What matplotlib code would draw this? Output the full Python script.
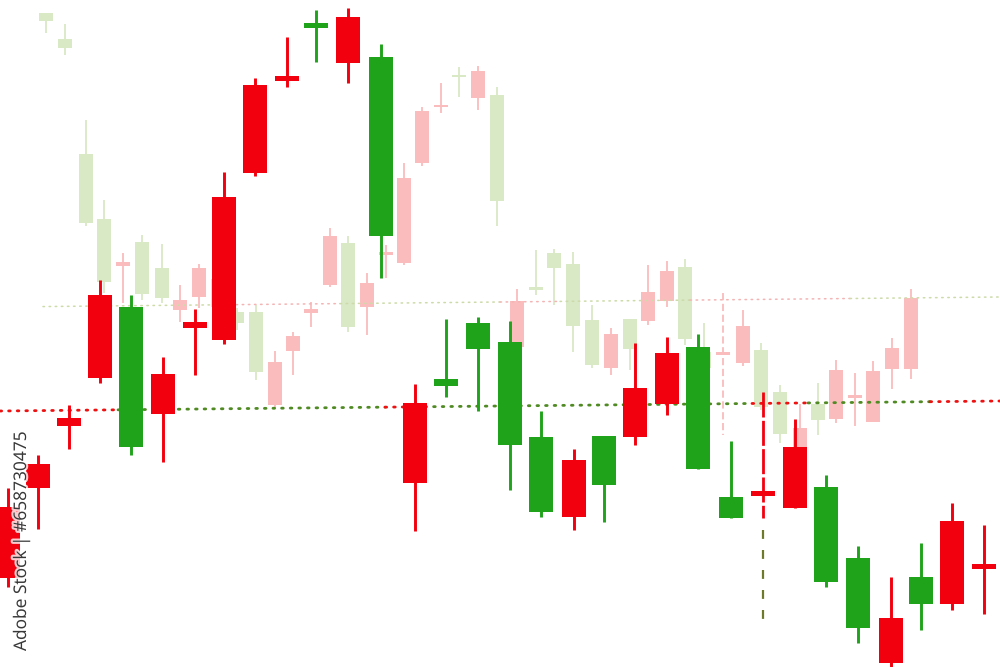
import numpy as np
import matplotlib.pyplot as plt
import matplotlib.patheffects as pe

# front candles: x, wick top, body top, body bottom, wick bottom (image rows, 0 = top)
fx = [8, 38, 69, 100, 131, 163, 195, 224, 255, 287, 316, 348, 381, 415, 446, 478,
      510, 541, 574, 604, 635, 667, 698, 731, 763, 795, 826, 858, 891, 921, 952, 984]
f_wt = [488, 455, 405, 280, 295, 357, 309, 172, 78, 37, 10, 8, 44, 384, 319, 317,
        321, 411, 449, 436, 343, 337, 334, 441, 392, 419, 475, 546, 577, 543, 503, 525]
f_bt = [507, 464, 418, 295, 307, 374, 322, 197, 85, 76, 23, 17, 57, 403, 379, 323,
        342, 437, 460, 436, 388, 353, 347, 497, 491, 447, 487, 558, 618, 577, 521, 564]
f_bb = [578, 488, 426, 378, 447, 414, 328, 340, 173, 79, 27, 63, 236, 483, 386, 349,
        445, 512, 517, 485, 437, 404, 469, 518, 494, 508, 582, 628, 663, 604, 604, 569]
f_wb = [587, 529, 449, 383, 455, 462, 375, 344, 176, 87, 62, 83, 278, 531, 397, 411,
        490, 517, 530, 522, 445, 415, 469, 518, 518, 508, 587, 643, 667, 630, 610, 614]
f_up = ['r', 'r', 'r', 'r', 'g', 'r', 'r', 'r', 'r', 'r', 'g', 'r', 'g', 'r', 'g', 'g',
        'g', 'g', 'r', 'g', 'r', 'r', 'g', 'g', 'r', 'r', 'g', 'g', 'r', 'g', 'r', 'r']

# faded candles behind
bx = [46, 65, 86, 104, 123, 142, 162, 180, 199, 218, 237, 256, 275, 293, 311, 330,
      348, 367, 386, 404, 422, 441, 459, 478, 497, 517, 536, 554, 573, 592, 611, 630,
      648, 667, 685, 704, 723, 743, 761, 780, 800, 818, 836, 855, 873, 892, 911]
b_wt = [13, 24, 120, 200, 253, 235, 244, 285, 264, 268, 308, 305, 351, 332, 302, 228,
        236, 273, 245, 163, 107, 83, 67, 66, 87, 289, 250, 249, 252, 305, 328, 319,
        265, 261, 259, 323, 293, 310, 343, 385, 404, 383, 360, 373, 361, 338, 289]
b_bt = [13, 39, 154, 219, 262, 242, 268, 300, 268, 279, 312, 312, 362, 336, 309, 236,
        243, 283, 252, 178, 111, 105, 75, 71, 95, 301, 287, 253, 264, 320, 334, 319,
        292, 271, 267, 352, 352, 326, 350, 392, 428, 404, 370, 395, 371, 348, 298]
b_bb = [21, 48, 223, 282, 266, 294, 298, 310, 297, 307, 323, 372, 405, 351, 313, 285,
        327, 307, 255, 263, 163, 107, 77, 98, 201, 347, 290, 268, 326, 365, 368, 349,
        321, 301, 339, 368, 355, 363, 407, 434, 447, 420, 419, 398, 422, 369, 369]
b_wb = [33, 55, 226, 293, 303, 300, 303, 322, 308, 312, 330, 380, 408, 375, 327, 287,
        332, 335, 278, 265, 166, 113, 97, 110, 226, 375, 295, 305, 352, 368, 375, 370,
        325, 307, 345, 372, 435, 366, 410, 443, 450, 435, 423, 426, 422, 389, 379]
b_up = ['g', 'g', 'g', 'g', 'p', 'g', 'g', 'p', 'p', 'g', 'g', 'g', 'p', 'p', 'p', 'p',
        'g', 'p', 'p', 'p', 'p', 'p', 'g', 'p', 'g', 'p', 'g', 'g', 'g', 'g', 'p', 'g',
        'p', 'p', 'g', 'g', 'p', 'p', 'g', 'g', 'p', 'g', 'p', 'p', 'p', 'p', 'p']

# dotted level lines: (x start, x end, colour key)
level_y = (411, 401)
level_segs = [(0, 118, 'r'), (118, 385, 'g'), (385, 425, 'r'), (425, 752, 'g'),
              (752, 808, 'r'), (808, 930, 'g'), (930, 1000, 'r')]
level2_y = (307, 297)
level2_segs = [(43, 230, 'g'), (230, 340, 'p'), (340, 500, 'g'), (500, 560, 'p'),
               (560, 690, 'g'), (690, 850, 'p'), (850, 1000, 'g')]

RED = '#F2000D'
GREEN = '#1FA31B'
PINK = '#FBBCBE'
PALE = '#D9E8C5'

fig = plt.figure(figsize=(10, 6.67), dpi=100)
ax = fig.add_axes([0, 0, 1, 1])
ax.set_xlim(0, 1000)
ax.set_ylim(667, 0)
ax.axis('off')

# background layer
bcol = [PALE if c == 'g' else PINK for c in b_up]
for i in range(len(bx)):
    ls = (0, (4, 2)) if bx[i] == 723 else '-'
    ax.vlines(bx[i], b_wt[i], b_wb[i], color=bcol[i], lw=1.3, linestyles=ls, zorder=1)
ax.bar(bx, np.array(b_bb) - np.array(b_bt), bottom=b_bt, width=14,
       color=bcol, edgecolor='none', zorder=2)

for x0, x1, c in level2_segs:
    xs = np.array([x0, x1])
    ys = np.interp(xs, [0, 1000], level2_y)
    ax.plot(xs, ys, color='#F4B4B4' if c == 'p' else '#CCDBA8', lw=1.1,
            linestyle=(0, (1, 3)), dash_capstyle='round', zorder=3)

for x0, x1, c in level_segs:
    xs = np.array([x0, x1])
    ys = np.interp(xs, [0, 1000], level_y)
    ax.plot(xs, ys, color='#EE1111' if c == 'r' else '#4F8A22', lw=2.0,
            linestyle=(0, (0.6, 2.5)), dash_capstyle='round', zorder=4)

# front layer
fcol = [RED if c == 'r' else GREEN for c in f_up]
for i in range(len(fx)):
    if fx[i] == 763:
        ax.vlines(fx[i], f_wt[i], f_wb[i], color=fcol[i], lw=2.0,
                  linestyles=(0, (9, 1.2)), zorder=5)
        ax.vlines(fx[i], 530, 630, color='#6E7A2A', lw=1.6,
                  linestyles=(0, (4, 5)), zorder=5)
    else:
        ax.vlines(fx[i], f_wt[i], f_wb[i], color=fcol[i], lw=2.1, zorder=5)
heights = np.maximum(np.array(f_bb) - np.array(f_bt), 5)
ax.bar(fx, heights, bottom=f_bt, width=24, color=fcol, edgecolor='none', zorder=6)

ax.text(22, 651, 'Adobe Stock | #658730475', rotation=90, ha='center', va='bottom',
        fontsize=12.5, family='Open Sans', color='#383838', zorder=8,
        path_effects=[pe.withStroke(linewidth=3, foreground='white', alpha=0.8)])

fig.savefig('out.png', dpi=100)
